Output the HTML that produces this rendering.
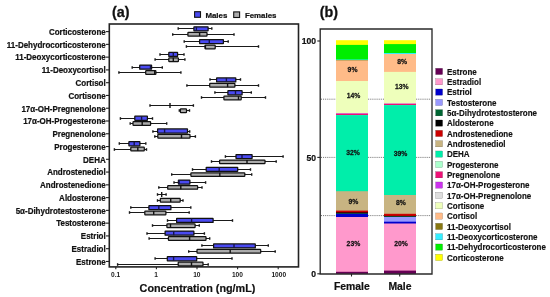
<!DOCTYPE html>
<html><head><meta charset="utf-8"><style>
html,body{margin:0;padding:0;background:#fff;}
body{width:550px;height:297px;overflow:hidden;}
svg{display:block;will-change:transform;}
svg text{font-family:"Liberation Sans",sans-serif;}
</style></head><body>
<svg width="550" height="297" viewBox="0 0 550 297">
<rect width="550" height="297" fill="#fff"/>
<g font-family="Liberation Sans, sans-serif" font-weight="bold" fill="#111" stroke="#111" stroke-width="0.3">
<text x="112.0" y="16.6" font-size="14.3">(a)</text>
<text x="319.7" y="16.6" font-size="14.3">(b)</text>
</g>
<rect x="194.6" y="11.7" width="5.9" height="5.6" fill="#4a4af2" stroke="#111" stroke-width="1.1"/>
<text x="205.4" y="17.7" font-size="7.9" font-weight="bold" fill="#111" stroke="#111" stroke-width="0.2" font-family="Liberation Sans, sans-serif">Males</text>
<rect x="233.7" y="11.9" width="5.9" height="5.6" fill="#ababab" stroke="#111" stroke-width="1.1"/>
<text x="244.9" y="17.7" font-size="7.9" font-weight="bold" fill="#111" stroke="#111" stroke-width="0.2" font-family="Liberation Sans, sans-serif">Females</text>
<rect x="109.3" y="24" width="189.2" height="242.9" fill="none" stroke="#222" stroke-width="1.6"/>
<g stroke="#222" stroke-width="1.1">
<line x1="106" y1="31.60" x2="109.3" y2="31.60"/>
<line x1="106" y1="44.37" x2="109.3" y2="44.37"/>
<line x1="106" y1="57.14" x2="109.3" y2="57.14"/>
<line x1="106" y1="69.91" x2="109.3" y2="69.91"/>
<line x1="106" y1="82.68" x2="109.3" y2="82.68"/>
<line x1="106" y1="95.45" x2="109.3" y2="95.45"/>
<line x1="106" y1="108.22" x2="109.3" y2="108.22"/>
<line x1="106" y1="120.99" x2="109.3" y2="120.99"/>
<line x1="106" y1="133.76" x2="109.3" y2="133.76"/>
<line x1="106" y1="146.53" x2="109.3" y2="146.53"/>
<line x1="106" y1="159.30" x2="109.3" y2="159.30"/>
<line x1="106" y1="172.07" x2="109.3" y2="172.07"/>
<line x1="106" y1="184.84" x2="109.3" y2="184.84"/>
<line x1="106" y1="197.61" x2="109.3" y2="197.61"/>
<line x1="106" y1="210.38" x2="109.3" y2="210.38"/>
<line x1="106" y1="223.15" x2="109.3" y2="223.15"/>
<line x1="106" y1="235.92" x2="109.3" y2="235.92"/>
<line x1="106" y1="248.69" x2="109.3" y2="248.69"/>
<line x1="106" y1="261.46" x2="109.3" y2="261.46"/>
<line x1="115.8" y1="266.9" x2="115.8" y2="269.3"/>
<line x1="156.4" y1="266.9" x2="156.4" y2="269.3"/>
<line x1="197.0" y1="266.9" x2="197.0" y2="269.3"/>
<line x1="237.6" y1="266.9" x2="237.6" y2="269.3"/>
<line x1="278.2" y1="266.9" x2="278.2" y2="269.3"/>
</g>
<g font-family="Liberation Sans, sans-serif" font-weight="bold" fill="#111" stroke="#111" stroke-width="0.2" font-size="8.0" text-anchor="end">
<text transform="translate(105.7,34.90) scale(1,1.07)">Corticosterone</text>
<text transform="translate(105.7,47.67) scale(1,1.07)">11-Dehydrocorticosterone</text>
<text transform="translate(105.7,60.44) scale(1,1.07)">11-Deoxycorticosterone</text>
<text transform="translate(105.7,73.21) scale(1,1.07)">11-Deoxycortisol</text>
<text transform="translate(105.7,85.98) scale(1,1.07)">Cortisol</text>
<text transform="translate(105.7,98.75) scale(1,1.07)">Cortisone</text>
<text transform="translate(105.7,111.52) scale(1,1.07)">17α-OH-Pregnenolone</text>
<text transform="translate(105.7,124.29) scale(1,1.07)">17α-OH-Progesterone</text>
<text transform="translate(105.7,137.06) scale(1,1.07)">Pregnenolone</text>
<text transform="translate(105.7,149.83) scale(1,1.07)">Progesterone</text>
<text transform="translate(105.7,162.60) scale(1,1.07)">DEHA</text>
<text transform="translate(105.7,175.37) scale(1,1.07)">Androstenediol</text>
<text transform="translate(105.7,188.14) scale(1,1.07)">Androstenedione</text>
<text transform="translate(105.7,200.91) scale(1,1.07)">Aldosterone</text>
<text transform="translate(105.7,213.68) scale(1,1.07)">5α-Dihydrotestosterone</text>
<text transform="translate(105.7,226.45) scale(1,1.07)">Testosterone</text>
<text transform="translate(105.7,239.22) scale(1,1.07)">Estriol</text>
<text transform="translate(105.7,251.99) scale(1,1.07)">Estradiol</text>
<text transform="translate(105.7,264.76) scale(1,1.07)">Estrone</text>
</g>
<g font-family="Liberation Sans, sans-serif" font-weight="bold" fill="#1a1a1a" font-size="6.6" text-anchor="middle">
<text x="115.6" y="277.3">0.1</text>
<text x="156.2" y="277.3">1</text>
<text x="196.8" y="277.3">10</text>
<text x="237.4" y="277.3">100</text>
<text x="278.8" y="277.3">1000</text>
</g>
<text x="197.5" y="292.3" font-size="10.8" font-weight="bold" fill="#111" stroke="#111" stroke-width="0.2" text-anchor="middle" font-family="Liberation Sans, sans-serif">Concentration (ng/mL)</text>
<line x1="178.2" y1="28.50" x2="211.8" y2="28.50" stroke="#1a1a1a" stroke-width="1.05"/><line x1="178.2" y1="27.20" x2="178.2" y2="29.80" stroke="#1a1a1a" stroke-width="1.4"/><line x1="211.8" y1="27.20" x2="211.8" y2="29.80" stroke="#1a1a1a" stroke-width="1.4"/><rect x="193.90" y="26.80" width="14.20" height="4.10" rx="0.3" fill="#4a4af2" stroke="#111" stroke-width="1.25"/><line x1="196.4" y1="26.80" x2="196.4" y2="30.90" stroke="#15154a" stroke-width="1.4"/>
<line x1="172.7" y1="34.50" x2="234" y2="34.50" stroke="#1a1a1a" stroke-width="1.05"/><line x1="172.7" y1="33.20" x2="172.7" y2="35.80" stroke="#1a1a1a" stroke-width="1.4"/><line x1="234" y1="33.20" x2="234" y2="35.80" stroke="#1a1a1a" stroke-width="1.4"/><rect x="187.90" y="32.30" width="19.10" height="3.70" rx="0.6" fill="#ababab" stroke="#111" stroke-width="1.25"/><line x1="199.6" y1="32.30" x2="199.6" y2="36.00" stroke="#111" stroke-width="1.4"/>
<line x1="184.2" y1="41.50" x2="228.2" y2="41.50" stroke="#1a1a1a" stroke-width="1.05"/><line x1="184.2" y1="40.20" x2="184.2" y2="42.80" stroke="#1a1a1a" stroke-width="1.4"/><line x1="228.2" y1="40.20" x2="228.2" y2="42.80" stroke="#1a1a1a" stroke-width="1.4"/><rect x="199.60" y="39.57" width="23.80" height="4.10" rx="0.3" fill="#4a4af2" stroke="#111" stroke-width="1.25"/><line x1="209.3" y1="39.57" x2="209.3" y2="43.67" stroke="#15154a" stroke-width="1.4"/>
<line x1="186.4" y1="46.50" x2="258.5" y2="46.50" stroke="#1a1a1a" stroke-width="1.05"/><line x1="186.4" y1="45.20" x2="186.4" y2="47.80" stroke="#1a1a1a" stroke-width="1.4"/><line x1="258.5" y1="45.20" x2="258.5" y2="47.80" stroke="#1a1a1a" stroke-width="1.4"/><rect x="205.10" y="45.07" width="10.10" height="3.70" rx="0.6" fill="#ababab" stroke="#111" stroke-width="1.25"/><line x1="205.4" y1="45.07" x2="205.4" y2="48.77" stroke="#111" stroke-width="1.4"/>
<line x1="160" y1="54.50" x2="184" y2="54.50" stroke="#1a1a1a" stroke-width="1.05"/><line x1="160" y1="53.20" x2="160" y2="55.80" stroke="#1a1a1a" stroke-width="1.4"/><line x1="184" y1="53.20" x2="184" y2="55.80" stroke="#1a1a1a" stroke-width="1.4"/><rect x="168.80" y="52.34" width="8.80" height="4.10" rx="0.3" fill="#4a4af2" stroke="#111" stroke-width="1.25"/><line x1="173.3" y1="52.34" x2="173.3" y2="56.44" stroke="#15154a" stroke-width="1.4"/>
<line x1="155.1" y1="59.50" x2="184.9" y2="59.50" stroke="#1a1a1a" stroke-width="1.05"/><line x1="155.1" y1="58.20" x2="155.1" y2="60.80" stroke="#1a1a1a" stroke-width="1.4"/><line x1="184.9" y1="58.20" x2="184.9" y2="60.80" stroke="#1a1a1a" stroke-width="1.4"/><rect x="168.80" y="57.84" width="9.60" height="3.70" rx="0.6" fill="#ababab" stroke="#111" stroke-width="1.25"/><line x1="173.3" y1="57.84" x2="173.3" y2="61.54" stroke="#111" stroke-width="1.4"/>
<line x1="132.2" y1="67.50" x2="162.3" y2="67.50" stroke="#1a1a1a" stroke-width="1.05"/><line x1="132.2" y1="66.20" x2="132.2" y2="68.80" stroke="#1a1a1a" stroke-width="1.4"/><line x1="162.3" y1="66.20" x2="162.3" y2="68.80" stroke="#1a1a1a" stroke-width="1.4"/><rect x="139.70" y="65.11" width="11.90" height="4.10" rx="0.3" fill="#4a4af2" stroke="#111" stroke-width="1.25"/><line x1="150.5" y1="65.11" x2="150.5" y2="69.21" stroke="#15154a" stroke-width="1.4"/>
<line x1="118.9" y1="72.50" x2="180.9" y2="72.50" stroke="#1a1a1a" stroke-width="1.05"/><line x1="118.9" y1="71.20" x2="118.9" y2="73.80" stroke="#1a1a1a" stroke-width="1.4"/><line x1="180.9" y1="71.20" x2="180.9" y2="73.80" stroke="#1a1a1a" stroke-width="1.4"/><rect x="145.70" y="70.61" width="10.20" height="3.70" rx="0.6" fill="#ababab" stroke="#111" stroke-width="1.25"/><line x1="154.7" y1="70.61" x2="154.7" y2="74.31" stroke="#111" stroke-width="1.4"/>
<line x1="210" y1="79.50" x2="240.5" y2="79.50" stroke="#1a1a1a" stroke-width="1.05"/><line x1="210" y1="78.20" x2="210" y2="80.80" stroke="#1a1a1a" stroke-width="1.4"/><line x1="240.5" y1="78.20" x2="240.5" y2="80.80" stroke="#1a1a1a" stroke-width="1.4"/><rect x="216.60" y="77.88" width="19.20" height="4.10" rx="0.3" fill="#4a4af2" stroke="#111" stroke-width="1.25"/><line x1="226.4" y1="77.88" x2="226.4" y2="81.98" stroke="#15154a" stroke-width="1.4"/>
<line x1="186.9" y1="85.50" x2="258.5" y2="85.50" stroke="#1a1a1a" stroke-width="1.05"/><line x1="186.9" y1="84.20" x2="186.9" y2="86.80" stroke="#1a1a1a" stroke-width="1.4"/><line x1="258.5" y1="84.20" x2="258.5" y2="86.80" stroke="#1a1a1a" stroke-width="1.4"/><rect x="209.70" y="83.38" width="25.20" height="3.70" rx="0.6" fill="#ababab" stroke="#111" stroke-width="1.25"/><line x1="227.6" y1="83.38" x2="227.6" y2="87.08" stroke="#111" stroke-width="1.4"/>
<line x1="214.9" y1="92.50" x2="251.3" y2="92.50" stroke="#1a1a1a" stroke-width="1.05"/><line x1="214.9" y1="91.20" x2="214.9" y2="93.80" stroke="#1a1a1a" stroke-width="1.4"/><line x1="251.3" y1="91.20" x2="251.3" y2="93.80" stroke="#1a1a1a" stroke-width="1.4"/><rect x="227.90" y="90.65" width="14.20" height="4.10" rx="0.3" fill="#4a4af2" stroke="#111" stroke-width="1.25"/><line x1="235.5" y1="90.65" x2="235.5" y2="94.75" stroke="#15154a" stroke-width="1.4"/>
<line x1="201.5" y1="97.50" x2="265.5" y2="97.50" stroke="#1a1a1a" stroke-width="1.05"/><line x1="201.5" y1="96.20" x2="201.5" y2="98.80" stroke="#1a1a1a" stroke-width="1.4"/><line x1="265.5" y1="96.20" x2="265.5" y2="98.80" stroke="#1a1a1a" stroke-width="1.4"/><rect x="223.90" y="96.15" width="17.30" height="3.70" rx="0.6" fill="#ababab" stroke="#111" stroke-width="1.25"/><line x1="238.5" y1="96.15" x2="238.5" y2="99.85" stroke="#111" stroke-width="1.4"/>
<line x1="150" y1="105.50" x2="193.4" y2="105.50" stroke="#1a1a1a" stroke-width="1.05"/><line x1="150" y1="104.20" x2="150" y2="106.80" stroke="#1a1a1a" stroke-width="1.4"/><line x1="193.4" y1="104.20" x2="193.4" y2="106.80" stroke="#1a1a1a" stroke-width="1.4"/><line x1="170" y1="103.10" x2="170" y2="107.90" stroke="#111" stroke-width="1.4"/>
<line x1="179.3" y1="110.50" x2="189.5" y2="110.50" stroke="#1a1a1a" stroke-width="1.05"/><line x1="179.3" y1="109.20" x2="179.3" y2="111.80" stroke="#1a1a1a" stroke-width="1.4"/><line x1="189.5" y1="109.20" x2="189.5" y2="111.80" stroke="#1a1a1a" stroke-width="1.4"/><rect x="180.40" y="108.92" width="6.10" height="3.70" rx="0.6" fill="#ababab" stroke="#111" stroke-width="1.25"/>
<line x1="120.4" y1="118.50" x2="152.5" y2="118.50" stroke="#1a1a1a" stroke-width="1.05"/><line x1="120.4" y1="117.20" x2="120.4" y2="119.80" stroke="#1a1a1a" stroke-width="1.4"/><line x1="152.5" y1="117.20" x2="152.5" y2="119.80" stroke="#1a1a1a" stroke-width="1.4"/><rect x="134.80" y="116.19" width="12.60" height="4.10" rx="0.3" fill="#4a4af2" stroke="#111" stroke-width="1.25"/><line x1="141.6" y1="116.19" x2="141.6" y2="120.29" stroke="#15154a" stroke-width="1.4"/>
<line x1="130.2" y1="123.50" x2="166.7" y2="123.50" stroke="#1a1a1a" stroke-width="1.05"/><line x1="130.2" y1="122.20" x2="130.2" y2="124.80" stroke="#1a1a1a" stroke-width="1.4"/><line x1="166.7" y1="122.20" x2="166.7" y2="124.80" stroke="#1a1a1a" stroke-width="1.4"/><rect x="133.00" y="121.69" width="17.60" height="3.70" rx="0.6" fill="#ababab" stroke="#111" stroke-width="1.25"/><line x1="142.2" y1="121.69" x2="142.2" y2="125.39" stroke="#111" stroke-width="1.4"/>
<line x1="152.9" y1="131.50" x2="189.7" y2="131.50" stroke="#1a1a1a" stroke-width="1.05"/><line x1="152.9" y1="130.20" x2="152.9" y2="132.80" stroke="#1a1a1a" stroke-width="1.4"/><line x1="189.7" y1="130.20" x2="189.7" y2="132.80" stroke="#1a1a1a" stroke-width="1.4"/><rect x="157.60" y="128.96" width="29.90" height="4.10" rx="0.3" fill="#4a4af2" stroke="#111" stroke-width="1.25"/><line x1="164.6" y1="128.96" x2="164.6" y2="133.06" stroke="#15154a" stroke-width="1.4"/>
<line x1="154.8" y1="136.50" x2="195.4" y2="136.50" stroke="#1a1a1a" stroke-width="1.05"/><line x1="154.8" y1="135.20" x2="154.8" y2="137.80" stroke="#1a1a1a" stroke-width="1.4"/><line x1="195.4" y1="135.20" x2="195.4" y2="137.80" stroke="#1a1a1a" stroke-width="1.4"/><rect x="157.80" y="134.46" width="32.20" height="3.70" rx="0.6" fill="#ababab" stroke="#111" stroke-width="1.25"/><line x1="181.5" y1="134.46" x2="181.5" y2="138.16" stroke="#111" stroke-width="1.4"/>
<line x1="119.3" y1="143.50" x2="145.8" y2="143.50" stroke="#1a1a1a" stroke-width="1.05"/><line x1="119.3" y1="142.20" x2="119.3" y2="144.80" stroke="#1a1a1a" stroke-width="1.4"/><line x1="145.8" y1="142.20" x2="145.8" y2="144.80" stroke="#1a1a1a" stroke-width="1.4"/><rect x="128.90" y="141.73" width="11.00" height="4.10" rx="0.3" fill="#4a4af2" stroke="#111" stroke-width="1.25"/><line x1="134.2" y1="141.73" x2="134.2" y2="145.83" stroke="#15154a" stroke-width="1.4"/>
<line x1="114.4" y1="149.50" x2="146.5" y2="149.50" stroke="#1a1a1a" stroke-width="1.05"/><line x1="114.4" y1="148.20" x2="114.4" y2="150.80" stroke="#1a1a1a" stroke-width="1.4"/><line x1="146.5" y1="148.20" x2="146.5" y2="150.80" stroke="#1a1a1a" stroke-width="1.4"/><rect x="130.80" y="147.23" width="13.50" height="3.70" rx="0.6" fill="#ababab" stroke="#111" stroke-width="1.25"/><line x1="137.8" y1="147.23" x2="137.8" y2="150.93" stroke="#111" stroke-width="1.4"/>
<line x1="225.4" y1="156.50" x2="283.1" y2="156.50" stroke="#1a1a1a" stroke-width="1.05"/><line x1="225.4" y1="155.20" x2="225.4" y2="157.80" stroke="#1a1a1a" stroke-width="1.4"/><line x1="283.1" y1="155.20" x2="283.1" y2="157.80" stroke="#1a1a1a" stroke-width="1.4"/><rect x="236.00" y="154.50" width="16.10" height="4.10" rx="0.3" fill="#4a4af2" stroke="#111" stroke-width="1.25"/><line x1="242" y1="154.50" x2="242" y2="158.60" stroke="#15154a" stroke-width="1.4"/>
<line x1="211.5" y1="161.50" x2="276.2" y2="161.50" stroke="#1a1a1a" stroke-width="1.05"/><line x1="211.5" y1="160.20" x2="211.5" y2="162.80" stroke="#1a1a1a" stroke-width="1.4"/><line x1="276.2" y1="160.20" x2="276.2" y2="162.80" stroke="#1a1a1a" stroke-width="1.4"/><rect x="219.60" y="160.00" width="45.40" height="3.70" rx="0.6" fill="#ababab" stroke="#111" stroke-width="1.25"/><line x1="247" y1="160.00" x2="247" y2="163.70" stroke="#111" stroke-width="1.4"/>
<line x1="192.5" y1="169.50" x2="250.5" y2="169.50" stroke="#1a1a1a" stroke-width="1.05"/><line x1="192.5" y1="168.20" x2="192.5" y2="170.80" stroke="#1a1a1a" stroke-width="1.4"/><line x1="250.5" y1="168.20" x2="250.5" y2="170.80" stroke="#1a1a1a" stroke-width="1.4"/><rect x="206.20" y="167.27" width="31.50" height="4.10" rx="0.3" fill="#4a4af2" stroke="#111" stroke-width="1.25"/><line x1="219.2" y1="167.27" x2="219.2" y2="171.37" stroke="#15154a" stroke-width="1.4"/>
<line x1="171.7" y1="174.50" x2="251.7" y2="174.50" stroke="#1a1a1a" stroke-width="1.05"/><line x1="171.7" y1="173.20" x2="171.7" y2="175.80" stroke="#1a1a1a" stroke-width="1.4"/><line x1="251.7" y1="173.20" x2="251.7" y2="175.80" stroke="#1a1a1a" stroke-width="1.4"/><rect x="190.90" y="172.77" width="53.90" height="3.70" rx="0.6" fill="#ababab" stroke="#111" stroke-width="1.25"/><line x1="219.8" y1="172.77" x2="219.8" y2="176.47" stroke="#111" stroke-width="1.4"/>
<line x1="174" y1="182.50" x2="205.6" y2="182.50" stroke="#1a1a1a" stroke-width="1.05"/><line x1="174" y1="181.20" x2="174" y2="183.80" stroke="#1a1a1a" stroke-width="1.4"/><line x1="205.6" y1="181.20" x2="205.6" y2="183.80" stroke="#1a1a1a" stroke-width="1.4"/><rect x="178.40" y="180.04" width="11.50" height="4.10" rx="0.3" fill="#4a4af2" stroke="#111" stroke-width="1.25"/><line x1="179.1" y1="180.04" x2="179.1" y2="184.14" stroke="#15154a" stroke-width="1.4"/>
<line x1="158.8" y1="187.50" x2="202" y2="187.50" stroke="#1a1a1a" stroke-width="1.05"/><line x1="158.8" y1="186.20" x2="158.8" y2="188.80" stroke="#1a1a1a" stroke-width="1.4"/><line x1="202" y1="186.20" x2="202" y2="188.80" stroke="#1a1a1a" stroke-width="1.4"/><rect x="167.70" y="185.54" width="29.90" height="3.70" rx="0.6" fill="#ababab" stroke="#111" stroke-width="1.25"/><line x1="180.8" y1="185.54" x2="180.8" y2="189.24" stroke="#111" stroke-width="1.4"/>
<line x1="157.5" y1="194.50" x2="166.1" y2="194.50" stroke="#1a1a1a" stroke-width="1.05"/><line x1="157.5" y1="193.20" x2="157.5" y2="195.80" stroke="#1a1a1a" stroke-width="1.4"/><line x1="166.1" y1="193.20" x2="166.1" y2="195.80" stroke="#1a1a1a" stroke-width="1.4"/><line x1="161.7" y1="192.10" x2="161.7" y2="196.90" stroke="#111" stroke-width="1.4"/>
<line x1="157.5" y1="200.50" x2="183" y2="200.50" stroke="#1a1a1a" stroke-width="1.05"/><line x1="157.5" y1="199.20" x2="157.5" y2="201.80" stroke="#1a1a1a" stroke-width="1.4"/><line x1="183" y1="199.20" x2="183" y2="201.80" stroke="#1a1a1a" stroke-width="1.4"/><rect x="160.30" y="198.31" width="19.90" height="3.70" rx="0.6" fill="#ababab" stroke="#111" stroke-width="1.25"/><line x1="170.7" y1="198.31" x2="170.7" y2="202.01" stroke="#111" stroke-width="1.4"/>
<line x1="130.8" y1="207.50" x2="190.8" y2="207.50" stroke="#1a1a1a" stroke-width="1.05"/><line x1="130.8" y1="206.20" x2="130.8" y2="208.80" stroke="#1a1a1a" stroke-width="1.4"/><line x1="190.8" y1="206.20" x2="190.8" y2="208.80" stroke="#1a1a1a" stroke-width="1.4"/><rect x="148.90" y="205.58" width="22.00" height="4.10" rx="0.3" fill="#4a4af2" stroke="#111" stroke-width="1.25"/><line x1="158.8" y1="205.58" x2="158.8" y2="209.68" stroke="#15154a" stroke-width="1.4"/>
<line x1="129.5" y1="212.50" x2="189.2" y2="212.50" stroke="#1a1a1a" stroke-width="1.05"/><line x1="129.5" y1="211.20" x2="129.5" y2="213.80" stroke="#1a1a1a" stroke-width="1.4"/><line x1="189.2" y1="211.20" x2="189.2" y2="213.80" stroke="#1a1a1a" stroke-width="1.4"/><rect x="144.80" y="211.08" width="21.10" height="3.70" rx="0.6" fill="#ababab" stroke="#111" stroke-width="1.25"/><line x1="153.7" y1="211.08" x2="153.7" y2="214.78" stroke="#111" stroke-width="1.4"/>
<line x1="167.5" y1="220.50" x2="232.5" y2="220.50" stroke="#1a1a1a" stroke-width="1.05"/><line x1="167.5" y1="219.20" x2="167.5" y2="221.80" stroke="#1a1a1a" stroke-width="1.4"/><line x1="232.5" y1="219.20" x2="232.5" y2="221.80" stroke="#1a1a1a" stroke-width="1.4"/><rect x="176.60" y="218.35" width="36.50" height="4.10" rx="0.3" fill="#4a4af2" stroke="#111" stroke-width="1.25"/><line x1="191.6" y1="218.35" x2="191.6" y2="222.45" stroke="#15154a" stroke-width="1.4"/>
<line x1="152.5" y1="225.50" x2="199.3" y2="225.50" stroke="#1a1a1a" stroke-width="1.05"/><line x1="152.5" y1="224.20" x2="152.5" y2="226.80" stroke="#1a1a1a" stroke-width="1.4"/><line x1="199.3" y1="224.20" x2="199.3" y2="226.80" stroke="#1a1a1a" stroke-width="1.4"/><rect x="166.90" y="223.85" width="28.20" height="3.70" rx="0.6" fill="#ababab" stroke="#111" stroke-width="1.25"/><line x1="170.5" y1="223.85" x2="170.5" y2="227.55" stroke="#111" stroke-width="1.4"/>
<line x1="147" y1="233.50" x2="204.4" y2="233.50" stroke="#1a1a1a" stroke-width="1.05"/><line x1="147" y1="232.20" x2="147" y2="234.80" stroke="#1a1a1a" stroke-width="1.4"/><line x1="204.4" y1="232.20" x2="204.4" y2="234.80" stroke="#1a1a1a" stroke-width="1.4"/><rect x="165.10" y="231.12" width="28.80" height="4.10" rx="0.3" fill="#4a4af2" stroke="#111" stroke-width="1.25"/><line x1="173.7" y1="231.12" x2="173.7" y2="235.22" stroke="#15154a" stroke-width="1.4"/>
<line x1="149.1" y1="238.50" x2="209.7" y2="238.50" stroke="#1a1a1a" stroke-width="1.05"/><line x1="149.1" y1="237.20" x2="149.1" y2="239.80" stroke="#1a1a1a" stroke-width="1.4"/><line x1="209.7" y1="237.20" x2="209.7" y2="239.80" stroke="#1a1a1a" stroke-width="1.4"/><rect x="168.40" y="236.62" width="37.60" height="3.70" rx="0.6" fill="#ababab" stroke="#111" stroke-width="1.25"/><line x1="189.6" y1="236.62" x2="189.6" y2="240.32" stroke="#111" stroke-width="1.4"/>
<line x1="201.9" y1="245.50" x2="268.3" y2="245.50" stroke="#1a1a1a" stroke-width="1.05"/><line x1="201.9" y1="244.20" x2="201.9" y2="246.80" stroke="#1a1a1a" stroke-width="1.4"/><line x1="268.3" y1="244.20" x2="268.3" y2="246.80" stroke="#1a1a1a" stroke-width="1.4"/><rect x="213.60" y="243.89" width="41.70" height="4.10" rx="0.3" fill="#4a4af2" stroke="#111" stroke-width="1.25"/><line x1="234" y1="243.89" x2="234" y2="247.99" stroke="#15154a" stroke-width="1.4"/>
<line x1="188.7" y1="251.50" x2="275.2" y2="251.50" stroke="#1a1a1a" stroke-width="1.05"/><line x1="188.7" y1="250.20" x2="188.7" y2="252.80" stroke="#1a1a1a" stroke-width="1.4"/><line x1="275.2" y1="250.20" x2="275.2" y2="252.80" stroke="#1a1a1a" stroke-width="1.4"/><rect x="197.00" y="249.39" width="63.70" height="3.70" rx="0.6" fill="#ababab" stroke="#111" stroke-width="1.25"/><line x1="230.2" y1="249.39" x2="230.2" y2="253.09" stroke="#111" stroke-width="1.4"/>
<line x1="155.1" y1="258.50" x2="232" y2="258.50" stroke="#1a1a1a" stroke-width="1.05"/><line x1="155.1" y1="257.20" x2="155.1" y2="259.80" stroke="#1a1a1a" stroke-width="1.4"/><line x1="232" y1="257.20" x2="232" y2="259.80" stroke="#1a1a1a" stroke-width="1.4"/><rect x="167.30" y="256.66" width="29.40" height="4.10" rx="0.3" fill="#4a4af2" stroke="#111" stroke-width="1.25"/><line x1="173.6" y1="256.66" x2="173.6" y2="260.76" stroke="#15154a" stroke-width="1.4"/>
<line x1="117.6" y1="264.50" x2="208.2" y2="264.50" stroke="#1a1a1a" stroke-width="1.05"/><line x1="117.6" y1="263.20" x2="117.6" y2="265.80" stroke="#1a1a1a" stroke-width="1.4"/><line x1="208.2" y1="263.20" x2="208.2" y2="265.80" stroke="#1a1a1a" stroke-width="1.4"/><rect x="178.20" y="262.16" width="24.80" height="3.70" rx="0.6" fill="#ababab" stroke="#111" stroke-width="1.25"/><line x1="191.5" y1="262.16" x2="191.5" y2="265.86" stroke="#111" stroke-width="1.4"/>
<g stroke="#444" stroke-width="0.8" stroke-dasharray="1,1.1">
<line x1="321" y1="215.60" x2="335.9" y2="215.60"/>
<line x1="368.2" y1="215.60" x2="383.9" y2="215.60"/>
<line x1="416.2" y1="215.60" x2="431" y2="215.60"/>
<line x1="321" y1="157.40" x2="335.9" y2="157.40"/>
<line x1="368.2" y1="157.40" x2="383.9" y2="157.40"/>
<line x1="416.2" y1="157.40" x2="431" y2="157.40"/>
<line x1="321" y1="99.20" x2="335.9" y2="99.20"/>
<line x1="368.2" y1="99.20" x2="383.9" y2="99.20"/>
<line x1="416.2" y1="99.20" x2="431" y2="99.20"/>
</g>
<rect x="336" y="40.20" width="32.00" height="233.60" fill="#ffff00"/><rect x="336" y="44.90" width="32.00" height="228.90" fill="#00ee00"/><rect x="336" y="59.50" width="32.00" height="214.30" fill="#33eeff"/><rect x="336" y="60.15" width="32.00" height="213.65" fill="#887711"/><rect x="336" y="60.40" width="32.00" height="213.40" fill="#ffbb88"/><rect x="336" y="81.00" width="32.00" height="192.80" fill="#eeffbb"/><rect x="336" y="113.30" width="32.00" height="160.50" fill="#dddddd"/><rect x="336" y="113.50" width="32.00" height="160.30" fill="#cc33ee"/><rect x="336" y="113.70" width="32.00" height="160.10" fill="#ee1177"/><rect x="336" y="115.00" width="32.00" height="158.80" fill="#aaffcc"/><rect x="336" y="115.10" width="32.00" height="158.70" fill="#00eeaa"/><rect x="336" y="191.20" width="32.00" height="82.60" fill="#c8b482"/><rect x="336" y="210.60" width="32.00" height="63.20" fill="#cc0000"/><rect x="336" y="212.40" width="32.00" height="61.40" fill="#000000"/><rect x="336" y="213.30" width="32.00" height="60.50" fill="#006633"/><rect x="336" y="213.90" width="32.00" height="59.90" fill="#9999ff"/><rect x="336" y="213.90" width="32.00" height="59.90" fill="#0000cc"/><rect x="336" y="217.00" width="32.00" height="56.80" fill="#ff99cc"/><rect x="336" y="271.80" width="32.00" height="2.00" fill="#660055"/>
<rect x="384" y="40.20" width="32.00" height="233.60" fill="#ffff00"/><rect x="384" y="44.10" width="32.00" height="229.70" fill="#00ee00"/><rect x="384" y="53.00" width="32.00" height="220.80" fill="#33eeff"/><rect x="384" y="54.00" width="32.00" height="219.80" fill="#887711"/><rect x="384" y="54.00" width="32.00" height="219.80" fill="#ffbb88"/><rect x="384" y="71.90" width="32.00" height="201.90" fill="#eeffbb"/><rect x="384" y="103.60" width="32.00" height="170.20" fill="#dddddd"/><rect x="384" y="103.70" width="32.00" height="170.10" fill="#cc33ee"/><rect x="384" y="103.80" width="32.00" height="170.00" fill="#ee1177"/><rect x="384" y="105.00" width="32.00" height="168.80" fill="#aaffcc"/><rect x="384" y="105.10" width="32.00" height="168.70" fill="#00eeaa"/><rect x="384" y="195.00" width="32.00" height="78.80" fill="#c8b482"/><rect x="384" y="213.80" width="32.00" height="60.00" fill="#cc0000"/><rect x="384" y="215.90" width="32.00" height="57.90" fill="#000000"/><rect x="384" y="216.40" width="32.00" height="57.40" fill="#006633"/><rect x="384" y="216.90" width="32.00" height="56.90" fill="#9999ff"/><rect x="384" y="221.70" width="32.00" height="52.10" fill="#0000cc"/><rect x="384" y="223.50" width="32.00" height="50.30" fill="#ff99cc"/><rect x="384" y="270.60" width="32.00" height="3.20" fill="#660055"/>
<g font-family="Liberation Sans, sans-serif" font-weight="bold" fill="#111" stroke="#111" stroke-width="0.25" font-size="7.9" text-anchor="middle">
<text transform="translate(352.5,72.4) scale(0.86,1)">9%</text>
<text transform="translate(353.5,97.8) scale(0.86,1)">14%</text>
<text transform="translate(353.1,154.6) scale(0.86,1)">32%</text>
<text transform="translate(353.4,203.8) scale(0.86,1)">9%</text>
<text transform="translate(353.4,246.3) scale(0.86,1)">23%</text>
<text transform="translate(402.1,64.4) scale(0.86,1)">8%</text>
<text transform="translate(401.7,88.9) scale(0.86,1)">13%</text>
<text transform="translate(400.5,155.7) scale(0.86,1)">39%</text>
<text transform="translate(400.8,205.2) scale(0.86,1)">8%</text>
<text transform="translate(401.1,246.3) scale(0.86,1)">20%</text>
</g>
<path d="M320.2,29 H432 V274 H320.2 Z" fill="none" stroke="#2a2a2a" stroke-width="1.35"/>
<g stroke="#222" stroke-width="1.1">
<line x1="317.3" y1="273.80" x2="320" y2="273.80"/>
<line x1="317.3" y1="157.40" x2="320" y2="157.40"/>
<line x1="317.3" y1="41.00" x2="320" y2="41.00"/>
<line x1="351.5" y1="273.8" x2="351.5" y2="276.5"/>
<line x1="399.7" y1="273.8" x2="399.7" y2="276.5"/>
</g>
<g font-family="Liberation Sans, sans-serif" font-weight="bold" fill="#111" stroke="#111" stroke-width="0.2" font-size="8.6" text-anchor="end">
<text x="316" y="277.10">0</text>
<text x="316" y="160.70">50</text>
<text x="316" y="44.30">100</text>
</g>
<g font-family="Liberation Sans, sans-serif" font-weight="bold" fill="#111" stroke="#111" stroke-width="0.2" font-size="10.4" text-anchor="middle">
<text x="351.8" y="290.3">Female</text><text x="400" y="290.3">Male</text>
</g>
<g font-family="Liberation Sans, sans-serif" font-weight="bold" fill="#111" stroke="#111" stroke-width="0.15" font-size="8.0">
<rect x="435.6" y="68.30" width="7" height="6.3" fill="#660055"/>
<text transform="translate(447,74.50) scale(1,1.07)">Estrone</text>
<rect x="435.6" y="78.63" width="7" height="6.3" fill="#ff99cc"/>
<text transform="translate(447,84.83) scale(1,1.07)">Estradiol</text>
<rect x="435.6" y="88.97" width="7" height="6.3" fill="#0000cc"/>
<text transform="translate(447,95.17) scale(1,1.07)">Estriol</text>
<rect x="435.6" y="99.30" width="7" height="6.3" fill="#9999ff"/>
<text transform="translate(447,105.50) scale(1,1.07)">Testosterone</text>
<rect x="435.6" y="109.63" width="7" height="6.3" fill="#006633"/>
<text transform="translate(447,115.83) scale(1,1.07)">5α-Dihydrotestosterone</text>
<rect x="435.6" y="119.97" width="7" height="6.3" fill="#000000"/>
<text transform="translate(447,126.17) scale(1,1.07)">Aldosterone</text>
<rect x="435.6" y="130.30" width="7" height="6.3" fill="#cc0000"/>
<text transform="translate(447,136.50) scale(1,1.07)">Androstenedione</text>
<rect x="435.6" y="140.63" width="7" height="6.3" fill="#c8b482"/>
<text transform="translate(447,146.83) scale(1,1.07)">Androstenediol</text>
<rect x="435.6" y="150.97" width="7" height="6.3" fill="#00eeaa"/>
<text transform="translate(447,157.17) scale(1,1.07)">DEHA</text>
<rect x="435.6" y="161.30" width="7" height="6.3" fill="#aaffcc"/>
<text transform="translate(447,167.50) scale(1,1.07)">Progesterone</text>
<rect x="435.6" y="171.63" width="7" height="6.3" fill="#ee1177"/>
<text transform="translate(447,177.83) scale(1,1.07)">Pregnenolone</text>
<rect x="435.6" y="181.97" width="7" height="6.3" fill="#cc33ee"/>
<text transform="translate(447,188.17) scale(1,1.07)">17α-OH-Progesterone</text>
<rect x="435.6" y="192.30" width="7" height="6.3" fill="#dddddd"/>
<text transform="translate(447,198.50) scale(1,1.07)">17α-OH-Pregnenolone</text>
<rect x="435.6" y="202.63" width="7" height="6.3" fill="#eeffbb"/>
<text transform="translate(447,208.83) scale(1,1.07)">Cortisone</text>
<rect x="435.6" y="212.97" width="7" height="6.3" fill="#ffbb88"/>
<text transform="translate(447,219.17) scale(1,1.07)">Cortisol</text>
<rect x="435.6" y="223.30" width="7" height="6.3" fill="#887711"/>
<text transform="translate(447,229.50) scale(1,1.07)">11-Deoxycortisol</text>
<rect x="435.6" y="233.63" width="7" height="6.3" fill="#33eeff"/>
<text transform="translate(447,239.83) scale(1,1.07)">11-Deoxycorticosterone</text>
<rect x="435.6" y="243.97" width="7" height="6.3" fill="#00ee00"/>
<text transform="translate(447,250.17) scale(1,1.07)">11-Dehydrocorticosterone</text>
<rect x="435.6" y="254.30" width="7" height="6.3" fill="#ffff00"/>
<text transform="translate(447,260.50) scale(1,1.07)">Corticosterone</text>
</g>
</svg>
</body></html>
